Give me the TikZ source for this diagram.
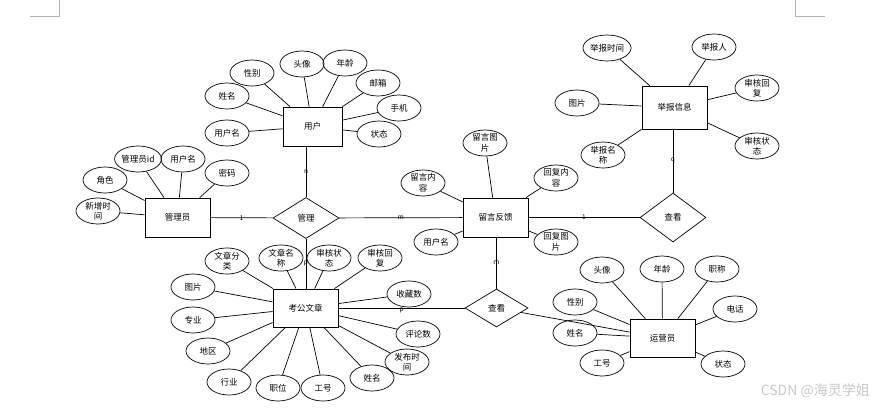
\documentclass[tikz,border=0pt]{standalone}
\usepackage{fontspec}
\setmainfont{Noto Sans CJK SC}
\usetikzlibrary{shapes.geometric}
\begin{document}
\begin{tikzpicture}[x=1pt,y=-1pt,
  ent/.style={draw=black, line width=0.8pt, rectangle, minimum width=65pt, minimum height=39pt, inner sep=0pt, font=\fontsize{8.5}{10}\selectfont},
  attr/.style={draw=black, line width=0.7pt, ellipse, minimum width=44pt, minimum height=26pt, inner sep=0pt, align=center, font=\fontsize{8.5}{10.5}\selectfont},
  rel/.style={draw=black, line width=0.7pt, diamond, inner sep=0pt, font=\fontsize{8.5}{10}\selectfont},
  lnk/.style={draw=black, line width=0.7pt},
  card/.style={font=\fontsize{6.5}{7}\selectfont, inner sep=0pt},
  cornermark/.style={draw=black!30, line width=0.6pt}
]
\useasboundingbox (0,0) rectangle (875,407);
% corner marks
\coordinate (tl0) at (59,0); \coordinate (tl1) at (59,16); \coordinate (tl2) at (30,16);
\coordinate (tr0) at (795,0); \coordinate (tr1) at (795,16); \coordinate (tr2) at (825,16);
\draw[cornermark] (tl0) -- (tl1) -- (tl2);
\draw[cornermark] (tr0) -- (tr1) -- (tr2);

% entities
\node[ent, minimum width=59pt] (user) at (312.5,126.5) {用户};
\node[ent] (admin) at (177.5,217.5) {管理员};
\node[ent] (fb) at (495.5,217.5) {留言反馈};
\node[ent, minimum height=43pt] (rep) at (674.5,107.5) {举报信息};
\node[ent, minimum height=38pt] (art) at (305.5,308) {考公文章};
\node[ent, minimum height=38pt] (op) at (662.5,338) {运营员};

% relations
\node[rel, minimum width=66pt, minimum height=41pt] (mg) at (306,218) {管理};
\node[rel, minimum width=66pt, minimum height=49pt] (vA) at (673,217.5) {查看};
\node[rel, minimum width=63pt, minimum height=38pt] (vB) at (496.5,308) {查看};

% user attributes
\node[attr] (u1) at (302,64) {头像};
\node[attr] (u2) at (345,63) {年龄};
\node[attr] (u3) at (252,73) {性别};
\node[attr] (u4) at (227,96) {姓名};
\node[attr] (u5) at (378,83) {邮箱};
\node[attr] (u6) at (399,108) {手机};
\node[attr] (u7) at (379,134) {状态};
\node[attr] (u8) at (227,133) {用户名};

% admin attributes
\node[attr] (a1) at (138,159) {管理员id};
\node[attr] (a2) at (183,159) {用户名};
\node[attr] (a3) at (227,173) {密码};
\node[attr] (a4) at (105,180) {角色};
\node[attr] (a5) at (98,211) {新增时\\间};

% feedback attributes
\node[attr] (f1) at (485,143) {留言图\\片};
\node[attr] (f2) at (423,183) {留言内\\容};
\node[attr] (f3) at (556,178) {回复内\\容};
\node[attr] (f4) at (556,242) {回复图\\片};
\node[attr] (f5) at (436,242) {用户名};

% report attributes
\node[attr, minimum width=47pt] (r1) at (607,48) {举报时间};
\node[attr] (r2) at (714,47) {举报人};
\node[attr] (r3) at (757,88) {审核回\\复};
\node[attr] (r4) at (577,103) {图片};
\node[attr] (r5) at (757,146) {审核状\\态};
\node[attr] (r6) at (603,155) {举报名\\称};

% article attributes
\node[attr] (c1) at (227,261) {文章分\\类};
\node[attr] (c2) at (281,258) {文章名\\称};
\node[attr] (c3) at (329,258) {审核状\\态};
\node[attr] (c4) at (380,258) {审核回\\复};
\node[attr] (c5) at (193,287) {图片};
\node[attr] (c6) at (409,294) {收藏数};
\node[attr] (c7) at (193,320) {专业};
\node[attr] (c8) at (418,334) {评论数};
\node[attr] (c9) at (208,351) {地区};
\node[attr] (c10) at (407,362) {发布时\\间};
\node[attr] (c11) at (229,382) {行业};
\node[attr] (c12) at (278,388) {职位};
\node[attr] (c13) at (323,388) {工号};
\node[attr] (c14) at (372,378) {姓名};

% operator attributes
\node[attr] (o1) at (602,270) {头像};
\node[attr] (o2) at (662,269) {年龄};
\node[attr] (o3) at (717,269) {职称};
\node[attr] (o4) at (575,302) {性别};
\node[attr] (o5) at (735,309) {电话};
\node[attr] (o6) at (575,333) {姓名};
\node[attr] (o7) at (602,363) {工号};
\node[attr] (o8) at (723,364) {状态};

% attribute links
\foreach \a in {u1,u2,u3,u4,u5,u6,u7,u8} \draw[lnk] (\a) -- (user);
\foreach \a in {a1,a2,a3,a4,a5} \draw[lnk] (\a) -- (admin);
\foreach \a in {f1,f2,f3,f4,f5} \draw[lnk] (\a) -- (fb);
\foreach \a in {r1,r2,r3,r4,r5,r6} \draw[lnk] (\a) -- (rep);
\foreach \a in {c1,c2,c3,c4,c5,c6,c7,c8,c9,c10,c11,c12,c13,c14} \draw[lnk] (\a) -- (art);
\foreach \a in {o1,o2,o3,o4,o5,o6,o7,o8} \draw[lnk] (\a) -- (op);

% relationship links
\draw[lnk] (admin) -- node[card] {1} (mg);
\draw[lnk] (mg) -- node[card] {m} (fb);
\draw[lnk] (fb) -- node[card] {1} (vA);
\draw[lnk] (mg.north |- user.south) -- node[card] {n} (mg.north);
\draw[lnk] (mg.south) -- node[card] {p} (art.north -| mg.south);
\draw[lnk] (art) -- node[card, yshift=-2pt] {p} (vB);
\draw[lnk] (fb.south -| vB.north) -- node[card] {m} (vB.north);
\draw[lnk] (rep.south -| vA.north) -- node[card, yshift=1pt] {q} (vA.north);
\draw[lnk] (vB) -- (op);

% watermark
\node[anchor=east, text=black!22, font=\fontsize{14}{16}\selectfont, inner sep=0pt] (wm) at (870,391) {CSDN @海灵学姐};
\end{tikzpicture}
\end{document}
